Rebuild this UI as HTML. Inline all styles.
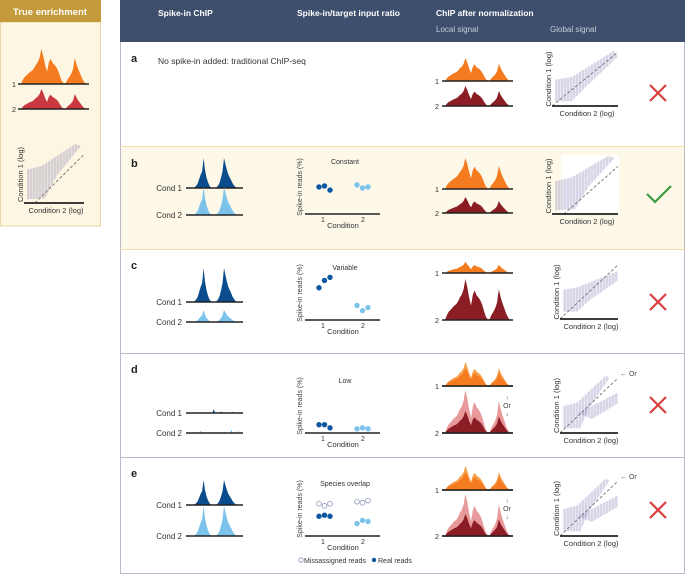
<!DOCTYPE html>
<html><head><meta charset="utf-8">
<style>
html,body{margin:0;padding:0;background:#fff;}
svg{display:block;font-family:"Liberation Sans",sans-serif;}
</style></head>
<body>
<svg id="fig" width="685" height="574" viewBox="0 0 685 574" xmlns="http://www.w3.org/2000/svg">
<defs>
<pattern id="hatch" width="3" height="4" patternUnits="userSpaceOnUse">
<rect width="3" height="4" fill="rgba(150,145,195,0.22)"/>
<line x1="1" y1="0" x2="1" y2="4" stroke="rgba(90,85,145,0.4)" stroke-width="0.6"/>
</pattern>
</defs>
<rect x="0.5" y="22" width="100" height="204" fill="#fdf6e3" stroke="#e9d7a5"/>
<rect x="0" y="0" width="101" height="22" fill="#c49a3a"/>
<text x="13" y="15" fill="#fff" font-size="9.5" font-weight="bold">True enrichment</text>
<rect x="120" y="0" width="565" height="42" fill="#3d4f6d"/>
<text x="158" y="16" fill="#fff" font-size="8.5" font-weight="bold">Spike-in ChIP</text>
<text x="297" y="16" fill="#fff" font-size="8.5" font-weight="bold">Spike-in/target input ratio</text>
<text x="436" y="16" fill="#fff" font-size="8.5" font-weight="bold">ChIP after normalization</text>
<text x="436" y="32" fill="#c9d0dc" font-size="8">Local signal</text>
<text x="550" y="32" fill="#c9d0dc" font-size="8">Global signal</text>
<rect x="120.5" y="146" width="564" height="103" fill="#fdf8e8"/>
<g stroke="#b9bacb" stroke-width="1" fill="none">
<line x1="120.5" y1="42" x2="120.5" y2="573"/><line x1="684.5" y1="42" x2="684.5" y2="573"/>
<line x1="120" y1="573.5" x2="685" y2="573.5"/>
<line x1="120" y1="353.5" x2="685" y2="353.5"/><line x1="120" y1="457.5" x2="685" y2="457.5"/>
</g>
<g stroke="#efdca8" stroke-width="1"><line x1="120" y1="146.5" x2="685" y2="146.5"/><line x1="120" y1="249.5" x2="685" y2="249.5"/></g>
<g font-size="11" font-weight="bold" fill="#222">
<text x="131" y="62">a</text>
<text x="131" y="167">b</text>
<text x="131" y="269">c</text>
<text x="131" y="373">d</text>
<text x="131" y="477">e</text>
</g>
<text x="158" y="64" font-size="8.5" fill="#333">No spike-in added: traditional ChIP-seq</text>
<g id="dyn"></g>
</svg>
<script>
// ---- data ----
const profileTrue = [0,0.12,0.2,0.25,0.3,0.35,0.38,0.45,0.55,0.62,0.75,1.0,0.8,0.55,0.35,0.62,0.72,0.6,0.55,0.48,0.38,0.22,0.08,0.02,0.02,0.12,0.2,0.28,0.42,0.75,0.55,0.4,0.28,0.15,0.06,0];
const profileChip = [0,0,0,0,0.03,0.08,0.15,0.3,0.45,0.55,1.0,0.6,0.35,0.2,0.08,0.02,0,0,0,0.03,0.08,0.18,0.35,0.55,1.0,0.8,0.6,0.45,0.35,0.25,0.15,0.08,0.03,0,0,0];
const profileLow = [0,0,0.2,0,0,0,0,0,0,0,0,0,0,0,0,0,0,1,0,0,0,0,0.4,0,0,0,0,0,0,0,0.3,0,0,0,0,0];
const profileLow2 = [0,0,0,0,0,0,0,0,0.6,0,0,0,0,0,0.3,0,0,0,0,0,0,0,0,0,0.4,0,0,0,0,0.8,0,0,0,0,0.5,0];
const spikeB1 = [52,54,46], spikeB2 = [56,50,52];
const spikeC1 = [62,76,82], spikeC2 = [28,18,24];
const spikeD1 = [16,16,10], spikeD2 = [8,10,8];
const spikeEReal1 = [38,40,38], spikeEReal2 = [24,30,28];
const spikeEMis1 = [62,58,62], spikeEMis2 = [66,64,68];
const condTicks = ["1","2"];

const NS = "http://www.w3.org/2000/svg";
const dyn = document.getElementById('dyn');
function mk(tag, a, parent){const e=document.createElementNS(NS,tag);for(const k in a)e.setAttribute(k,a[k]);(parent||dyn).appendChild(e);return e;}

function track(x0,x1,yb,h,profile,color,label,lx,name){
  const n=profile.length;let d=`M${x0+3},${yb}`;
  profile.forEach((v,i)=>{d+=` L${(x0+3+(x1-x0-6)*i/(n-1)).toFixed(1)},${(yb-v*h).toFixed(1)}`;});
  d+=` L${x1-3},${yb} Z`;
  const p=mk('path',{d:d,fill:color});
  
  
  const l=mk('line',{x1:x0,y1:yb,x2:x1,y2:yb,stroke:'#222','stroke-width':1.6});
  
  
  if(label){const t=mk('text',{x:lx,y:yb+3,'font-size':label.length>2?8:7.5,fill:'#333','text-anchor':'end'});t.textContent=label;
  
  }
}

function spike(yb,title,s1,s2,name,open1,open2){
  const H=52,x0=300,x1=380;
  const ax=mk('line',{x1:x0+5,y1:yb,x2:x1,y2:yb,stroke:'#222','stroke-width':1.6});
  
  
  const yl=mk('text',{x:0,y:0,'font-size':7,fill:'#444','text-anchor':'middle',transform:`translate(302,${yb-27}) rotate(-90)`});yl.textContent='Spike-in reads (%)';
  
  
  const tt=mk('text',{x:345,y:yb-H+2,'font-size':7,fill:'#333','text-anchor':'middle'});tt.textContent=title;
  
  
  condTicks.forEach((c,i)=>{const t=mk('text',{x:323+i*40,y:yb+8,'font-size':7,fill:'#333','text-anchor':'middle'});t.textContent=c;
    
    });
  const cl=mk('text',{x:343,y:yb+14,'font-size':7.5,fill:'#333','text-anchor':'middle'});cl.textContent='Condition';
  
  
  const yv=v=>yb-v/100*H;
  s1.forEach((v,i)=>{const c=mk('circle',{cx:319+i*5.5,cy:yv(v),r:2.7,fill:'#0b57a0'});
    
    });
  s2.forEach((v,i)=>{const c=mk('circle',{cx:357+i*5.5,cy:yv(v),r:2.7,fill:'#7cc3ec'});
    
    });
  if(open1){open1.forEach((v,i)=>{const c=mk('circle',{cx:319+i*5.5,cy:yv(v),r:2.4,fill:'none',stroke:'#8a94b8','stroke-width':0.8});
    
    });}
  if(open2){open2.forEach((v,i)=>{const c=mk('circle',{cx:357+i*5.5,cy:yv(v),r:2.4,fill:'none',stroke:'#8a94b8','stroke-width':0.8});
    
    });}
}

function scatter(x0,yb,w,h,type,name){
  const P=(u,v)=>`${(x0+u*w).toFixed(1)},${(yb-2-v*h).toFixed(1)}`;
  let polys=[],diag=[[0,0],[1,1]];
  if(type==='a')polys=[[[0.05,0.05],[0.05,0.45],[0.3,0.5],[0.93,0.98],[1,0.88],[0.5,0.3],[0.3,0.05]]];
  if(type==='b'){polys=[[[0.05,0.03],[0.05,0.55],[0.3,0.62],[0.85,1],[0.95,0.97],[0.55,0.45],[0.35,0.05]]];diag=[[0.18,0],[1,0.85]];}
  if(type==='c')polys=[[[0.05,0.1],[0.05,0.5],[0.3,0.55],[1,0.85],[1,0.68],[0.5,0.3],[0.3,0.1]]];
  if(type==='d')polys=[[[0.05,0.05],[0.05,0.45],[0.3,0.52],[0.78,1],[0.86,0.98],[0.5,0.42],[0.35,0.05]],[[0.3,0.32],[1,0.7],[1,0.5],[0.55,0.22]]];
  polys.forEach(pp=>{const g=mk('polygon',{points:pp.map(q=>P(q[0],q[1])).join(' '),fill:'url(#hatch)'});
    
    });
  const dl=mk('line',{x1:x0+diag[0][0]*w,y1:yb-diag[0][1]*h,x2:x0+diag[1][0]*w,y2:yb-diag[1][1]*h,stroke:'#666','stroke-width':0.8,'stroke-dasharray':'3,2'});
  
  
  const ax=mk('line',{x1:x0,y1:yb,x2:x0+w,y2:yb,stroke:'#222','stroke-width':1.8});
  
  
  const xt=mk('text',{x:x0+w/2+2,y:yb+10,'font-size':7.5,fill:'#333','text-anchor':'middle'});xt.textContent='Condition 2 (log)';
  
  
  const yt=mk('text',{x:0,y:0,'font-size':7.5,fill:'#333','text-anchor':'middle',transform:`translate(${x0-1},${yb-h/2}) rotate(-90)`});yt.textContent='Condition 1 (log)';
  
  
}

function orArrows(x,y,name){
  const t=mk('text',{x:x,y:y+3,'font-size':7,fill:'#444','text-anchor':'middle'});t.textContent='Or';
  
  
  mk('text',{x:x,y:y-5,'font-size':6,fill:'#444','text-anchor':'middle'}).textContent='↑';
  mk('text',{x:x,y:y+11,'font-size':6,fill:'#444','text-anchor':'middle'}).textContent='↓';
}
function cross(cx,cy,name){
  const g=mk('path',{d:`M${cx-8},${cy-8} L${cx+8},${cy+8} M${cx+8},${cy-8} L${cx-8},${cy+8}`,stroke:'#d8403f','stroke-width':2.2,fill:'none'});
  
  
}

track(18,89,84,35,profileTrue,'#f47b20','1',16,'true-cond1-track');
track(18,89,109,20,profileTrue,'#c9373f','2',16,'true-cond2-track');
scatter(24,203,60,57,'b','true-scatter');

track(442,513,81,23,profileTrue,'#f47b20','1',439,'a-local-1');
track(442,513,106,20,profileTrue,'#8b1e24','2',439,'a-local-2');
scatter(552,106,66,54,'a','a-global');
cross(658,93,'a-fail-mark');

track(186,243,188,30,profileChip,'#0b4d8c','Cond 1',182,'b-chip-cond1');
track(186,243,215,28,profileChip,'#7cc3ec','Cond 2',182,'b-chip-cond2');
spike(214,'Constant',spikeB1,spikeB2,'b-spike');
track(442,513,189,31,profileTrue,'#f47b20','1',439,'b-local-1');
track(442,513,213,16,profileTrue,'#8b1e24','2',439,'b-local-2');
const wb=mk('rect',{x:561,y:155,width:58,height:58,fill:'#fff'});


scatter(552,214,66,56,'b','b-global');
const ck=mk('path',{d:'M647,194 L655,202 L671,186',stroke:'#3d9a3d','stroke-width':2.2,fill:'none'});



track(186,243,302,34,profileChip,'#0b4d8c','Cond 1',182,'c-chip-cond1');
track(186,243,322,12,profileChip,'#7cc3ec','Cond 2',182,'c-chip-cond2');
spike(320,'Variable',spikeC1,spikeC2,'c-spike');
track(442,513,273,11,profileTrue,'#f47b20','1',439,'c-local-1');
track(442,513,320,41,profileTrue,'#8b1e24','2',439,'c-local-2');
scatter(560,319,58,54,'c','c-global');
cross(658,302,'c-fail-mark');

track(186,243,413,4,profileLow,'#0b4d8c','Cond 1',182,'d-chip-cond1');
track(186,243,433,4,profileLow2,'#7cc3ec','Cond 2',182,'d-chip-cond2');
spike(433,'Low',spikeD1,spikeD2,'d-spike');
track(442,513,386,24,profileTrue,'#f7a24e','1',439,'d-local-1-upper');
track(442,513,386,18,profileTrue,'#f47b20',null,0,'d-local-1');
track(442,513,433,43,profileTrue,'#e8999a','2',439,'d-local-2-upper');
track(442,513,433,22,profileTrue,'#8b1e24',null,0,'d-local-2');
orArrows(507,405,'d-local-or');
scatter(560,433,58,55,'d','d-global');
const o1=mk('text',{x:620,y:376,'font-size':7,fill:'#444'});o1.textContent='← Or';


cross(658,405,'d-fail-mark');

track(186,243,505,25,profileChip,'#0b4d8c','Cond 1',182,'e-chip-cond1');
track(186,243,536,30,profileChip,'#7cc3ec','Cond 2',182,'e-chip-cond2');
spike(536,'Species overlap',spikeEReal1,spikeEReal2,'e-spike',spikeEMis1,spikeEMis2);
const lg1=mk('circle',{cx:301,cy:560,r:2.2,fill:'none',stroke:'#8a94b8','stroke-width':0.8});


const lt1=mk('text',{x:304,y:563,'font-size':7,fill:'#333'});lt1.textContent='Missassigned reads';


const lg2=mk('circle',{cx:374,cy:560,r:2.2,fill:'#0b57a0'});


const lt2=mk('text',{x:378,y:563,'font-size':7,fill:'#333'});lt2.textContent='Real reads';


track(442,513,490,24,profileTrue,'#f7a24e','1',439,'e-local-1-upper');
track(442,513,490,18,profileTrue,'#f47b20',null,0,'e-local-1');
track(442,513,536,42,profileTrue,'#e8999a','2',439,'e-local-2-upper');
track(442,513,536,22,profileTrue,'#8b1e24',null,0,'e-local-2');
orArrows(507,508,'e-local-or');
scatter(560,536,58,55,'d','e-global');
const o2=mk('text',{x:620,y:479,'font-size':7,fill:'#444'});o2.textContent='← Or';


cross(658,510,'e-fail-mark');
</script>
</body></html>
